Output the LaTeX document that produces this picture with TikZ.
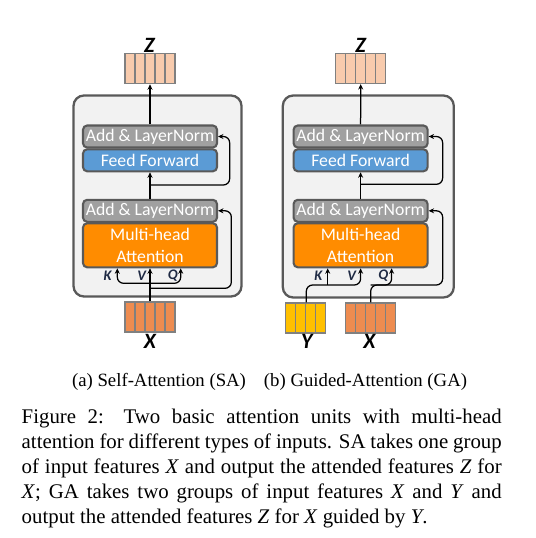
\documentclass[tikz,border=0pt]{standalone}
\usepackage{fontspec}
\setmainfont{Liberation Serif}
\newfontfamily\calibri{Carlito}
\usetikzlibrary{arrows.meta,calc}

\definecolor{panelbg}{HTML}{F2F2F2}
\definecolor{edge}{HTML}{595959}
\definecolor{normgray}{HTML}{A0A0A0}
\definecolor{ffblue}{HTML}{5B9BD5}
\definecolor{attorange}{HTML}{FF8C00}
\definecolor{zpeach}{HTML}{F8CBAD}
\definecolor{xorange}{HTML}{EE8C50}
\definecolor{ygold}{HTML}{FFC000}
\definecolor{kvqblue}{HTML}{1F2A44}
\newcommand{\pu}{0.48pt}

\begin{document}
\begin{tikzpicture}[x=0.48pt, y=-0.48pt,
	panel/.style={draw=edge, line width=1.1pt, fill=panelbg, rounded corners=5pt},
	block/.style={draw=edge, line width=1pt, rounded corners=2pt, text=white,
		font=\calibri\fontsize{8.5}{10.4}\selectfont, minimum width=134*\pu,
		inner sep=0pt, align=center},
	normbox/.style={block, fill=normgray, minimum height=22*\pu},
	ffbox/.style={block, fill=ffblue, minimum height=22*\pu},
	attbox/.style={block, fill=attorange, minimum height=44*\pu},
	cell/.style={draw=gray, line width=0.6pt, minimum width=10*\pu,
		minimum height=30*\pu, inner sep=0pt},
	vlabel/.style={font=\calibri\bfseries\itshape\fontsize{10.5}{11}\selectfont, inner sep=0pt},
	kvq/.style={font=\calibri\bfseries\itshape\fontsize{7}{8}\selectfont, text=kvqblue, inner sep=0pt},
	flow/.style={line width=0.6pt, -{Stealth[length=2.6pt,width=2.4pt]}},
	subcap/.style={font=\fontsize{9}{11}\selectfont, inner sep=0pt}]
	\useasboundingbox (0,0) rectangle (535,538);

	% (a) self-attention
	\node[panel, minimum width=168*\pu, minimum height=201*\pu] (frameA) at (157.5,196) {};
	\node[normbox] (lnAa) at (150,136.5) {Add \& LayerNorm};
	\node[ffbox] (ffA) at (150,160.3) {Feed Forward};
	\node[normbox] (lnAb) at (150,210.8) {Add \& LayerNorm};
	\node[attbox] (mhaA) at (150,245.3) {Multi-head\\Attention};
	\foreach \i in {0,...,4}{
		\node[cell, fill=zpeach] (zA\i) at (130+10*\i,68.7) {};
		\node[cell, fill=xorange] (xA\i) at (130+10*\i,317) {};
	}
	\node[vlabel] (zlabA) at (149.3,45) {Z};
	\node[vlabel] (xlabA) at (150,341.7) {X};
	\node[kvq] (kA) at (107.7,276) {K};
	\node[kvq] (vA) at (141.7,276) {V};
	\node[kvq] (qA) at (172.7,276) {Q};
	\coordinate (splitA) at (150,283.3);
	\coordinate (resA) at (150,288.3);
	\coordinate (midA) at (150,185);
	\draw[flow] (xA2.north) -- (mhaA.south);
	\draw[flow, rounded corners=3pt] (splitA) -| ($(mhaA.south)+(-32.7,0)$);
	\draw[flow, rounded corners=3pt] (splitA) -| ($(mhaA.south)+(30.7,0)$);
	\draw[flow, rounded corners=3pt] (resA) -| ($(lnAb.east)+(13.3,0)$) -- (lnAb.east);
	\draw[flow] (lnAb.north) -- (ffA.south);
	\draw[flow, rounded corners=3pt] (midA) -| ($(lnAa.east)+(11.6,0)$) -- (lnAa.east);
	\draw[flow] (lnAa.north) -- (zA2.south);

	% (b) guided-attention
	\node[panel, minimum width=171*\pu, minimum height=202*\pu] (frameB) at (368.3,196.5) {};
	\node[normbox] (lnBa) at (360.6,136.5) {Add \& LayerNorm};
	\node[ffbox] (ffB) at (360.6,160.3) {Feed Forward};
	\node[normbox] (lnBb) at (360.6,210.8) {Add \& LayerNorm};
	\node[attbox] (mhaB) at (360.6,245.3) {Multi-head\\Attention};
	\foreach \i in {0,...,4}{
		\node[cell, fill=zpeach] (zB\i) at (340.7+10*\i,68.5) {};
		\node[cell, fill=xorange] (xB\i) at (350.7+10*\i,318) {};
	}
	\foreach \i in {0,...,3}
		\node[cell, fill=ygold] (yB\i) at (290.7+10*\i,318) {};
	\node[vlabel] (zlabB) at (360.7,45) {Z};
	\node[vlabel] (ylabB) at (306.7,341.5) {Y};
	\node[vlabel] (xlabB) at (369.5,341.5) {X};
	\node[kvq] (kB) at (318.3,276) {K};
	\node[kvq] (vB) at (351.7,276) {V};
	\node[kvq] (qB) at (383.3,276) {Q};
	\coordinate (keyB) at (327.7,285);
	\coordinate (splitB) at (370.7,285);
	\coordinate (midB) at (360.6,184.3);
	\draw[flow, rounded corners=3pt] (yB1.north east) |- (keyB) -| (mhaB.south);
	\draw[flow] (keyB) -- (keyB |- mhaB.south);
	\draw[flow, rounded corners=3pt] (xB2.north) -- (splitB) -| ($(lnBb.east)+(14,0)$) -- (lnBb.east);
	\draw[flow, rounded corners=3pt] (splitB) -| ($(mhaB.south)+(31,0)$);
	\draw[flow] (lnBb.north) -- (ffB.south);
	\draw[flow, rounded corners=3pt] (midB) -| ($(lnBa.east)+(14,0)$) -- (lnBa.east);
	\draw[flow] (lnBa.north) -- (zB2.south);

	% captions
	\node[subcap] (capA) at (159,382) {(a) Self-Attention (SA)};
	\node[subcap] (capB) at (365.5,382) {(b) Guided-Attention (GA)};
	\node[anchor=north west, inner sep=0pt, text width=230.4pt, align=justify,
		font=\fontsize{10}{12}\selectfont] (figcap) at (21.3,409)
		{Figure 2: Two basic attention units with multi-head\linebreak
		attention for different types of inputs. SA takes one group\linebreak
		of input features \textit{X} and output the attended features \textit{Z} for\linebreak
		\textit{X}; GA takes two groups of input features \textit{X} and \textit{Y} and\linebreak
		output the attended features \textit{Z} for \textit{X} guided by \textit{Y}.};
\end{tikzpicture}
\end{document}
